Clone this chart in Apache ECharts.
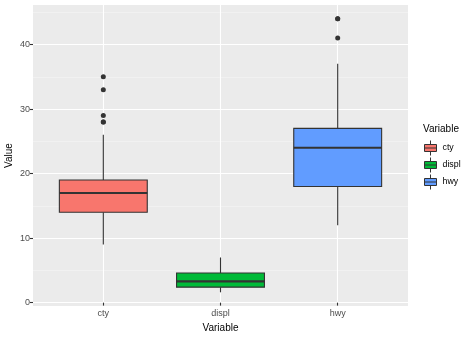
<!DOCTYPE html>
<html>
<head>
<meta charset="utf-8">
<script src="https://cdn.jsdelivr.net/npm/echarts@6/dist/echarts.min.js"></script>
<style>html,body{margin:0;padding:0;background:#fff;}#c{width:474px;height:338px;}</style>
</head>
<body>
<div id="c"></div>
<script>
// ---- data ----
const categories = ['cty', 'displ', 'hwy'];
const lowerWhisker = [9, 1.6, 12];
const q1 = [14, 2.4, 18];
const median = [17, 3.3, 24];
const q3 = [19, 4.6, 27];
const upperWhisker = [26, 7, 37];
const ctyOutliers = [28, 28, 29, 33, 35];
const displOutliers = [];
const hwyOutliers = [41, 44, 44];
const yTicks = [0, 10, 20, 30, 40];
const yMinorTicks = [5, 15, 25, 35, 45];
const fills = ['#F8766D', '#00BA38', '#619CFF'];

const outliersByCat = [ctyOutliers, displOutliers, hwyOutliers];
const FONT = 'Liberation Sans, Arial, sans-serif';

function renderBox(params, api) {
  const x = api.value(0);
  const pLow = api.coord([x, api.value(1)]);
  const pQ1 = api.coord([x, api.value(2)]);
  const pMed = api.coord([x, api.value(3)]);
  const pQ3 = api.coord([x, api.value(4)]);
  const pHigh = api.coord([x, api.value(5)]);
  const halfW = api.size([0.75, 0])[0] / 2;
  const cx = pLow[0];
  const stroke = '#333333';
  return {
    type: 'group',
    children: [
      { type: 'line', shape: { x1: cx, y1: pQ3[1], x2: cx, y2: pHigh[1] }, style: { stroke: stroke, lineWidth: 1.1 } },
      { type: 'line', shape: { x1: cx, y1: pQ1[1], x2: cx, y2: pLow[1] }, style: { stroke: stroke, lineWidth: 1.1 } },
      { type: 'rect', shape: { x: cx - halfW, y: pQ3[1], width: halfW * 2, height: pQ1[1] - pQ3[1] },
        style: { fill: api.visual('color'), stroke: stroke, lineWidth: 1.1 } },
      { type: 'line', shape: { x1: cx - halfW, y1: pMed[1], x2: cx + halfW, y2: pMed[1] }, style: { stroke: stroke, lineWidth: 2.1 } }
    ]
  };
}

const series = categories.map((name, i) => ({
  name: name,
  type: 'custom',
  renderItem: renderBox,
  itemStyle: { color: fills[i], borderColor: '#333333', borderWidth: 1 },
  encode: { x: 0, y: [1, 2, 3, 4, 5] },
  data: [[i + 1, lowerWhisker[i], q1[i], median[i], q3[i], upperWhisker[i]]],
  z: 2
}));

const outlierData = [];
outliersByCat.forEach((arr, i) => arr.forEach(v => outlierData.push([i + 1, v])));
series.push({
  name: 'outliers',
  type: 'scatter',
  symbol: 'circle',
  symbolSize: 5,
  itemStyle: { color: '#333333', opacity: 1 },
  data: outlierData,
  z: 3
});

const yMin = -0.52, yMax = 46.12;

const option = {
  animation: false,
  backgroundColor: '#ffffff',
  textStyle: { fontFamily: FONT },
  title: {
    text: 'Variable', left: 423, top: 124.5, padding: 0,
    textStyle: { fontSize: 10, fontWeight: 'normal', color: '#000', fontFamily: FONT }
  },
  legend: {
    data: categories,
    orient: 'vertical',
    left: 424, top: 140, padding: 0,
    itemWidth: 14, itemHeight: 15,
    itemGap: 1,
    icon: 'path://M1,4 L13,4 L13,11 L1,11 Z M7,0 L7,4 M7,11 L7,15 M1,7.5 L13,7.5',
    itemStyle: { borderColor: '#333333', borderWidth: 1 },
    textStyle: { fontSize: 8.8, color: '#000', fontFamily: FONT }
  },
  grid: {
    left: 33, right: 66, top: 5, bottom: 32,
    outerBoundsMode: 'none', containLabel: false,
    show: true, backgroundColor: '#EBEBEB', borderWidth: 0
  },
  xAxis: {
    type: 'value', min: 0.4, max: 3.6,
    axisLine: { show: false },
    axisTick: { show: true, length: 3, customValues: [1, 2, 3], lineStyle: { color: '#333333', width: 1.1 } },
    axisLabel: { customValues: [1, 2, 3], formatter: v => categories[Math.round(v) - 1], margin: 3,
      fontSize: 9, color: '#4D4D4D', fontFamily: FONT },
    splitLine: { show: true, lineStyle: { color: '#ffffff', width: 1.1 } },
    name: 'Variable', nameLocation: 'middle', nameGap: 16,
    nameTextStyle: { fontSize: 10, color: '#000', fontFamily: FONT }
  },
  yAxis: [{
    type: 'value', min: yMin, max: yMax,
    axisLine: { show: false },
    axisTick: { show: true, length: 3, customValues: yTicks, lineStyle: { color: '#333333', width: 1.1 } },
    axisLabel: { customValues: yTicks, margin: 3, fontSize: 9, color: '#4D4D4D', fontFamily: FONT },
    splitLine: { show: true, lineStyle: { color: '#ffffff', width: 1.1 } },
    name: 'Value', nameLocation: 'middle', nameGap: 19, nameRotate: 90, nameMoveOverlap: false,
    nameTextStyle: { fontSize: 10, color: '#000', fontFamily: FONT }
  }, {
    type: 'value', min: yMin, max: yMax, position: 'left',
    axisLine: { show: false },
    axisTick: { show: false, customValues: yMinorTicks },
    axisLabel: { show: false, customValues: yMinorTicks },
    splitLine: { show: true, lineStyle: { color: '#F5F5F5', width: 0.6 } }
  }],
  series: series
};

const chart = echarts.init(document.getElementById('c'), null, { renderer: 'canvas' });
chart.setOption(option);
</script>
</body>
</html>
